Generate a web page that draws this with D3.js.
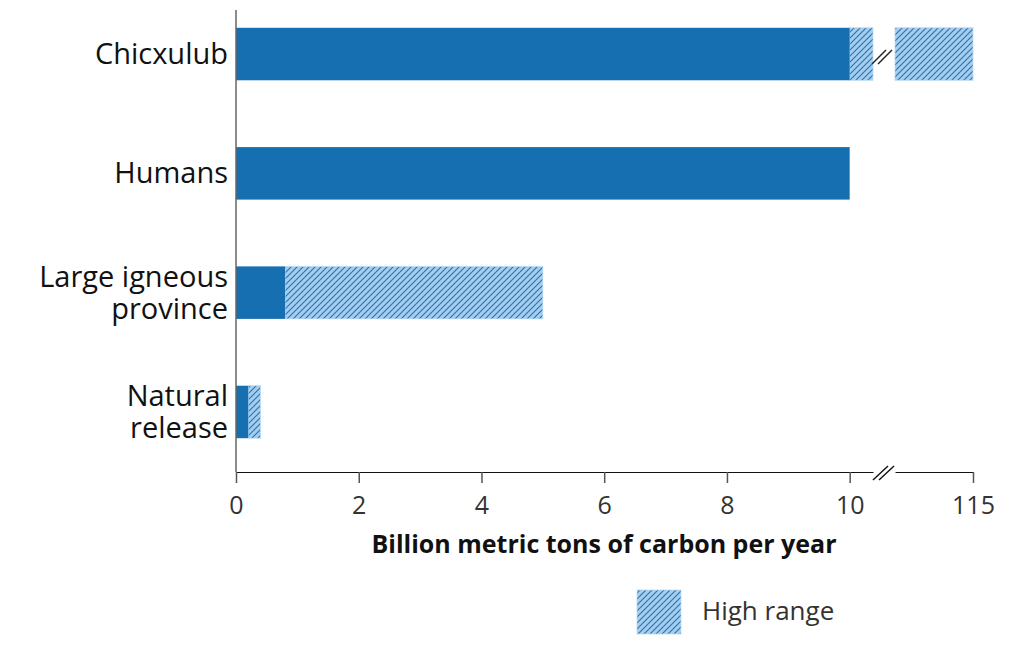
<!DOCTYPE html>
<html>
<head>
<meta charset="utf-8">
<script src="https://cdnjs.cloudflare.com/ajax/libs/d3/7.8.5/d3.min.js"></script>
<style>
  body { margin: 0; background: #fff; }
  svg { font-family: "Open Sans", sans-serif; }
</style>
</head>
<body>
<svg id="chart" width="1030" height="656"></svg>
<script>
// data
var categories = ["Chicxulub", "Humans", "Large igneous province", "Natural release"];
var labelLines = [["Chicxulub"], ["Humans"], ["Large igneous", "province"], ["Natural", "release"]];
var lowValues = [10, 10, 0.8, 0.2];
var highValues = [115, 10, 5, 0.4];
var tickValues = [0, 2, 4, 6, 8, 10];
var farTick = 115;

var svg = d3.select("#chart");
var margin = { top: 10, left: 236, bottom: 472 };
var fontFam = "'Open Sans', sans-serif";

// broken x scale: two pieces
var breakLow = 10.38, breakHigh = 113.7;
var xA = d3.scaleLinear().domain([0, breakLow]).range([236, 873]);
var xB = d3.scaleLinear().domain([breakHigh, 115]).range([895, 973]);
var x = function(v) { return v <= breakLow ? xA(v) : xB(v); };

var y = d3.scaleBand().domain(categories).range([-8, 474]).paddingInner(0.56).paddingOuter(0.3);

var solid = "#156fb0";

// hatch pattern
var defs = svg.append("defs");
var pat = defs.append("pattern").attr("id", "hatch")
  .attr("patternUnits", "userSpaceOnUse").attr("width", 6).attr("height", 6);
pat.append("rect").attr("width", 6).attr("height", 6).attr("fill", "#a4cdee");
pat.append("path").attr("d", "M0,6 L6,0 M-1,1 L1,-1 M5,7 L7,5")
  .attr("stroke", "#2574b3").attr("stroke-width", 1.1);

var plot = svg.append("g");

function hatchRect(x0, x1, yy) {
  plot.append("rect").attr("x", x0).attr("y", yy)
    .attr("width", x1 - x0).attr("height", y.bandwidth())
    .attr("fill", "url(#hatch)").attr("stroke", "#b9dcf5").attr("stroke-width", 0.8);
}

// high range (hatched)
categories.forEach(function(c, i) {
  var lo = lowValues[i], hi = highValues[i];
  if (hi <= lo) return;
  if (hi > breakLow) {
    hatchRect(xA(lo), xA(breakLow), y(c));
    hatchRect(xB(breakHigh), xB(hi), y(c));
    // break marks on bar
    var cy = y(c) + y.bandwidth() / 2 + 3;
    [-3, 3].forEach(function(d) {
      plot.append("line")
        .attr("x1", xA(breakLow) + 2 + d).attr("y1", cy + 7)
        .attr("x2", xA(breakLow) + 16 + d).attr("y2", cy - 7)
        .attr("stroke", "#222").attr("stroke-width", 1.4);
    });
  } else {
    hatchRect(x(lo), x(hi), y(c));
  }
});

// low values (solid)
plot.selectAll("rect.low").data(categories).enter().append("rect")
  .attr("class", "low")
  .attr("x", xA(0))
  .attr("y", function(c) { return y(c); })
  .attr("width", function(c, i) { return xA(lowValues[i]) - xA(0); })
  .attr("height", y.bandwidth())
  .attr("fill", solid);

// y axis line
svg.append("line").attr("x1", 236).attr("x2", 236).attr("y1", margin.top).attr("y2", margin.bottom)
  .attr("stroke", "#666").attr("stroke-width", 1.5);

// x axis
var axisY = margin.bottom;
var xAxisA = d3.axisBottom(xA).tickValues(tickValues).tickSize(11).tickSizeOuter(0).tickFormat(d3.format("d"));
var gA = svg.append("g").attr("transform", "translate(0," + axisY + ")").call(xAxisA);
var xAxisB = d3.axisBottom(xB).tickValues([farTick]).tickSize(11).tickSizeOuter(0).tickFormat(d3.format("d"));
var gB = svg.append("g").attr("transform", "translate(0," + axisY + ")").call(xAxisB);
[gA, gB].forEach(function(g) {
  g.attr("font-family", fontFam).attr("font-size", 25);
  g.select(".domain").attr("stroke", "#111").attr("stroke-width", 1.2);
  g.selectAll(".tick line").attr("stroke", "#555").attr("stroke-width", 1.5);
  g.selectAll(".tick text").attr("fill", "#333").attr("dy", "1.12em");
});
// axis break marks
[-3, 3].forEach(function(d) {
  svg.append("line")
    .attr("x1", xA(breakLow) + 3 + d).attr("y1", axisY + 8)
    .attr("x2", xA(breakLow) + 18 + d).attr("y2", axisY - 6)
    .attr("stroke", "#111").attr("stroke-width", 1.4);
});

// axis title
svg.append("text").attr("x", 604).attr("y", 553).attr("text-anchor", "middle")
  .attr("font-size", 25).attr("font-weight", "bold").attr("fill", "#111")
  .text("Billion metric tons of carbon per year");

// category labels (each line its own text element)
categories.forEach(function(c, i) {
  var lines = labelLines[i];
  var cy = y(c) + y.bandwidth() / 2;
  lines.forEach(function(l, j) {
    svg.append("text").attr("text-anchor", "end").attr("font-size", 29).attr("fill", "#111")
      .attr("x", 228)
      .attr("y", cy + 10 + (j - (lines.length - 1) / 2) * 32)
      .text(l);
  });
});

// legend
svg.append("rect").attr("x", 637).attr("y", 590).attr("width", 44).attr("height", 44)
  .attr("fill", "url(#hatch)").attr("stroke", "#b9dcf5").attr("stroke-width", 0.8);
svg.append("text").attr("x", 702).attr("y", 620).attr("font-size", 26).attr("fill", "#333")
  .text("High range");
</script>
</body>
</html>
